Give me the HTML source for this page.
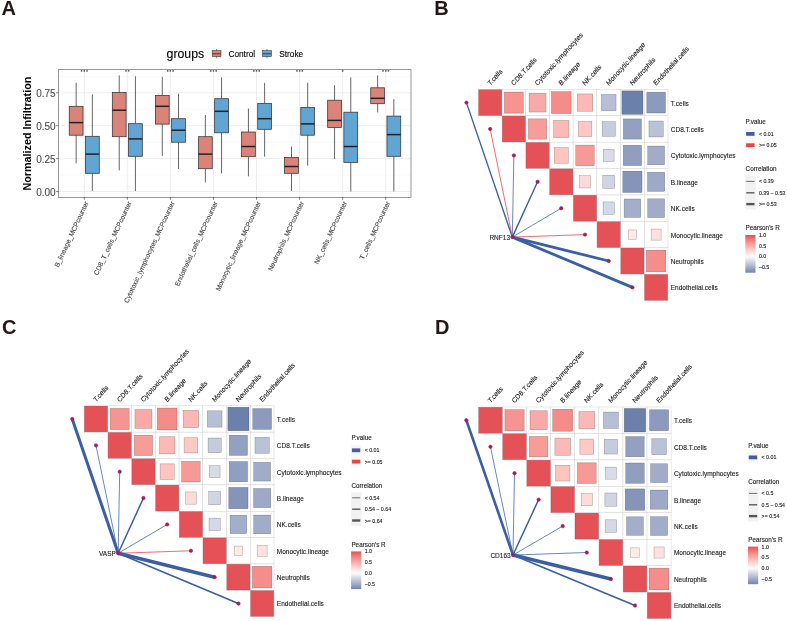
<!DOCTYPE html>
<html><head><meta charset="utf-8"><style>
html,body{margin:0;padding:0;background:#fff;overflow:hidden;width:787px;height:621px;}
svg{display:block;font-family:"Liberation Sans", sans-serif;will-change:transform;}
</style></head><body>
<svg width="787" height="621" viewBox="0 0 787 621">
<rect x="58.5" y="69.5" width="352.5" height="127.5" fill="#fff"/>
<line x1="58.5" x2="411.0" y1="175.05" y2="175.05" stroke="#F2F2F2" stroke-width="0.5"/>
<line x1="58.5" x2="411.0" y1="142.15" y2="142.15" stroke="#F2F2F2" stroke-width="0.5"/>
<line x1="58.5" x2="411.0" y1="109.25" y2="109.25" stroke="#F2F2F2" stroke-width="0.5"/>
<line x1="58.5" x2="411.0" y1="76.35" y2="76.35" stroke="#F2F2F2" stroke-width="0.5"/>
<line x1="58.5" x2="411.0" y1="191.50" y2="191.50" stroke="#E6E6E6" stroke-width="0.7"/>
<line x1="58.5" x2="411.0" y1="158.60" y2="158.60" stroke="#E6E6E6" stroke-width="0.7"/>
<line x1="58.5" x2="411.0" y1="125.70" y2="125.70" stroke="#E6E6E6" stroke-width="0.7"/>
<line x1="58.5" x2="411.0" y1="92.80" y2="92.80" stroke="#E6E6E6" stroke-width="0.7"/>
<line x1="84.25" x2="84.25" y1="69.5" y2="197.0" stroke="#E6E6E6" stroke-width="0.7"/>
<line x1="127.32" x2="127.32" y1="69.5" y2="197.0" stroke="#E6E6E6" stroke-width="0.7"/>
<line x1="170.39" x2="170.39" y1="69.5" y2="197.0" stroke="#E6E6E6" stroke-width="0.7"/>
<line x1="213.46" x2="213.46" y1="69.5" y2="197.0" stroke="#E6E6E6" stroke-width="0.7"/>
<line x1="256.53" x2="256.53" y1="69.5" y2="197.0" stroke="#E6E6E6" stroke-width="0.7"/>
<line x1="299.60" x2="299.60" y1="69.5" y2="197.0" stroke="#E6E6E6" stroke-width="0.7"/>
<line x1="342.67" x2="342.67" y1="69.5" y2="197.0" stroke="#E6E6E6" stroke-width="0.7"/>
<line x1="385.74" x2="385.74" y1="69.5" y2="197.0" stroke="#E6E6E6" stroke-width="0.7"/>
<line x1="76.15" x2="76.15" y1="82.8" y2="106.3" stroke="#333333" stroke-width="0.75"/>
<line x1="76.15" x2="76.15" y1="135.2" y2="163.3" stroke="#333333" stroke-width="0.75"/>
<rect x="69.25" y="106.3" width="13.8" height="28.90" fill="#DA8379" stroke="#333333" stroke-width="0.75"/>
<line x1="69.25" x2="83.05" y1="122.6" y2="122.6" stroke="#222" stroke-width="1.5"/>
<line x1="92.35" x2="92.35" y1="94.3" y2="136.3" stroke="#333333" stroke-width="0.75"/>
<line x1="92.35" x2="92.35" y1="173.3" y2="191.1" stroke="#333333" stroke-width="0.75"/>
<rect x="85.45" y="136.3" width="13.8" height="37.00" fill="#61A5D5" stroke="#333333" stroke-width="0.75"/>
<line x1="85.45" x2="99.25" y1="154.1" y2="154.1" stroke="#222" stroke-width="1.5"/>
<line x1="119.22" x2="119.22" y1="75.4" y2="92.6" stroke="#333333" stroke-width="0.75"/>
<line x1="119.22" x2="119.22" y1="136.7" y2="170.4" stroke="#333333" stroke-width="0.75"/>
<rect x="112.32" y="92.6" width="13.8" height="44.10" fill="#DA8379" stroke="#333333" stroke-width="0.75"/>
<line x1="112.32" x2="126.12" y1="110.2" y2="110.2" stroke="#222" stroke-width="1.5"/>
<line x1="135.42" x2="135.42" y1="76.3" y2="123.7" stroke="#333333" stroke-width="0.75"/>
<line x1="135.42" x2="135.42" y1="156.3" y2="191.1" stroke="#333333" stroke-width="0.75"/>
<rect x="128.52" y="123.7" width="13.8" height="32.60" fill="#61A5D5" stroke="#333333" stroke-width="0.75"/>
<line x1="128.52" x2="142.32" y1="138.9" y2="138.9" stroke="#222" stroke-width="1.5"/>
<line x1="162.29" x2="162.29" y1="77.0" y2="95.4" stroke="#333333" stroke-width="0.75"/>
<line x1="162.29" x2="162.29" y1="124.1" y2="155.9" stroke="#333333" stroke-width="0.75"/>
<rect x="155.39" y="95.4" width="13.8" height="28.70" fill="#DA8379" stroke="#333333" stroke-width="0.75"/>
<line x1="155.39" x2="169.19" y1="106.3" y2="106.3" stroke="#222" stroke-width="1.5"/>
<line x1="178.49" x2="178.49" y1="93.7" y2="118.7" stroke="#333333" stroke-width="0.75"/>
<line x1="178.49" x2="178.49" y1="142.2" y2="168.9" stroke="#333333" stroke-width="0.75"/>
<rect x="171.59" y="118.7" width="13.8" height="23.50" fill="#61A5D5" stroke="#333333" stroke-width="0.75"/>
<line x1="171.59" x2="185.39" y1="130.2" y2="130.2" stroke="#222" stroke-width="1.5"/>
<line x1="205.36" x2="205.36" y1="115.0" y2="136.7" stroke="#333333" stroke-width="0.75"/>
<line x1="205.36" x2="205.36" y1="168.7" y2="182.4" stroke="#333333" stroke-width="0.75"/>
<rect x="198.46" y="136.7" width="13.8" height="32.00" fill="#DA8379" stroke="#333333" stroke-width="0.75"/>
<line x1="198.46" x2="212.26" y1="154.1" y2="154.1" stroke="#222" stroke-width="1.5"/>
<line x1="221.56" x2="221.56" y1="77.4" y2="98.7" stroke="#333333" stroke-width="0.75"/>
<line x1="221.56" x2="221.56" y1="132.8" y2="173.3" stroke="#333333" stroke-width="0.75"/>
<rect x="214.66" y="98.7" width="13.8" height="34.10" fill="#61A5D5" stroke="#333333" stroke-width="0.75"/>
<line x1="214.66" x2="228.46" y1="111.3" y2="111.3" stroke="#222" stroke-width="1.5"/>
<line x1="248.43" x2="248.43" y1="108.5" y2="132.0" stroke="#333333" stroke-width="0.75"/>
<line x1="248.43" x2="248.43" y1="156.7" y2="176.3" stroke="#333333" stroke-width="0.75"/>
<rect x="241.53" y="132.0" width="13.8" height="24.70" fill="#DA8379" stroke="#333333" stroke-width="0.75"/>
<line x1="241.53" x2="255.33" y1="146.5" y2="146.5" stroke="#222" stroke-width="1.5"/>
<line x1="264.63" x2="264.63" y1="82.8" y2="103.5" stroke="#333333" stroke-width="0.75"/>
<line x1="264.63" x2="264.63" y1="129.3" y2="156.7" stroke="#333333" stroke-width="0.75"/>
<rect x="257.73" y="103.5" width="13.8" height="25.80" fill="#61A5D5" stroke="#333333" stroke-width="0.75"/>
<line x1="257.73" x2="271.53" y1="118.7" y2="118.7" stroke="#222" stroke-width="1.5"/>
<line x1="291.50" x2="291.50" y1="146.5" y2="157.4" stroke="#333333" stroke-width="0.75"/>
<line x1="291.50" x2="291.50" y1="173.3" y2="191.1" stroke="#333333" stroke-width="0.75"/>
<rect x="284.60" y="157.4" width="13.8" height="15.90" fill="#DA8379" stroke="#333333" stroke-width="0.75"/>
<line x1="284.60" x2="298.40" y1="166.5" y2="166.5" stroke="#222" stroke-width="1.5"/>
<line x1="307.70" x2="307.70" y1="82.8" y2="107.4" stroke="#333333" stroke-width="0.75"/>
<line x1="307.70" x2="307.70" y1="135.2" y2="165.7" stroke="#333333" stroke-width="0.75"/>
<rect x="300.80" y="107.4" width="13.8" height="27.80" fill="#61A5D5" stroke="#333333" stroke-width="0.75"/>
<line x1="300.80" x2="314.60" y1="123.9" y2="123.9" stroke="#222" stroke-width="1.5"/>
<line x1="334.57" x2="334.57" y1="85.2" y2="100.2" stroke="#333333" stroke-width="0.75"/>
<line x1="334.57" x2="334.57" y1="127.6" y2="158.9" stroke="#333333" stroke-width="0.75"/>
<rect x="327.67" y="100.2" width="13.8" height="27.40" fill="#DA8379" stroke="#333333" stroke-width="0.75"/>
<line x1="327.67" x2="341.47" y1="120.4" y2="120.4" stroke="#222" stroke-width="1.5"/>
<line x1="350.77" x2="350.77" y1="77.4" y2="112.2" stroke="#333333" stroke-width="0.75"/>
<line x1="350.77" x2="350.77" y1="162.4" y2="191.5" stroke="#333333" stroke-width="0.75"/>
<rect x="343.87" y="112.2" width="13.8" height="50.20" fill="#61A5D5" stroke="#333333" stroke-width="0.75"/>
<line x1="343.87" x2="357.67" y1="146.5" y2="146.5" stroke="#222" stroke-width="1.5"/>
<line x1="377.64" x2="377.64" y1="75.4" y2="87.8" stroke="#333333" stroke-width="0.75"/>
<line x1="377.64" x2="377.64" y1="103.7" y2="112.4" stroke="#333333" stroke-width="0.75"/>
<rect x="370.74" y="87.8" width="13.8" height="15.90" fill="#DA8379" stroke="#333333" stroke-width="0.75"/>
<line x1="370.74" x2="384.54" y1="98.3" y2="98.3" stroke="#222" stroke-width="1.5"/>
<line x1="393.84" x2="393.84" y1="99.1" y2="116.1" stroke="#333333" stroke-width="0.75"/>
<line x1="393.84" x2="393.84" y1="156.3" y2="191.5" stroke="#333333" stroke-width="0.75"/>
<rect x="386.94" y="116.1" width="13.8" height="40.20" fill="#61A5D5" stroke="#333333" stroke-width="0.75"/>
<line x1="386.94" x2="400.74" y1="134.6" y2="134.6" stroke="#222" stroke-width="1.5"/>
<rect x="80.80" y="70.2" width="1.5" height="1.4" fill="#444"/>
<rect x="83.50" y="70.2" width="1.5" height="1.4" fill="#444"/>
<rect x="86.20" y="70.2" width="1.5" height="1.4" fill="#444"/>
<rect x="125.22" y="70.2" width="1.5" height="1.4" fill="#444"/>
<rect x="127.92" y="70.2" width="1.5" height="1.4" fill="#444"/>
<rect x="166.94" y="70.2" width="1.5" height="1.4" fill="#444"/>
<rect x="169.64" y="70.2" width="1.5" height="1.4" fill="#444"/>
<rect x="172.34" y="70.2" width="1.5" height="1.4" fill="#444"/>
<rect x="210.01" y="70.2" width="1.5" height="1.4" fill="#444"/>
<rect x="212.71" y="70.2" width="1.5" height="1.4" fill="#444"/>
<rect x="215.41" y="70.2" width="1.5" height="1.4" fill="#444"/>
<rect x="253.08" y="70.2" width="1.5" height="1.4" fill="#444"/>
<rect x="255.78" y="70.2" width="1.5" height="1.4" fill="#444"/>
<rect x="258.48" y="70.2" width="1.5" height="1.4" fill="#444"/>
<rect x="296.15" y="70.2" width="1.5" height="1.4" fill="#444"/>
<rect x="298.85" y="70.2" width="1.5" height="1.4" fill="#444"/>
<rect x="301.55" y="70.2" width="1.5" height="1.4" fill="#444"/>
<rect x="341.92" y="70.2" width="1.5" height="1.4" fill="#444"/>
<rect x="382.29" y="70.2" width="1.5" height="1.4" fill="#444"/>
<rect x="384.99" y="70.2" width="1.5" height="1.4" fill="#444"/>
<rect x="387.69" y="70.2" width="1.5" height="1.4" fill="#444"/>
<rect x="58.5" y="69.5" width="352.5" height="128" fill="none" stroke="#8C8C8C" stroke-width="0.9"/>
<line x1="56.1" x2="58.5" y1="191.50" y2="191.50" stroke="#333" stroke-width="0.6"/>
<text transform="translate(55.60,196.00) scale(1,1)" font-size="10" fill="#4D4D4D" stroke="#4D4D4D" stroke-width="0.12" text-anchor="end">0.00</text>
<line x1="56.1" x2="58.5" y1="158.60" y2="158.60" stroke="#333" stroke-width="0.6"/>
<text transform="translate(55.60,163.10) scale(1,1)" font-size="10" fill="#4D4D4D" stroke="#4D4D4D" stroke-width="0.12" text-anchor="end">0.25</text>
<line x1="56.1" x2="58.5" y1="125.70" y2="125.70" stroke="#333" stroke-width="0.6"/>
<text transform="translate(55.60,130.20) scale(1,1)" font-size="10" fill="#4D4D4D" stroke="#4D4D4D" stroke-width="0.12" text-anchor="end">0.50</text>
<line x1="56.1" x2="58.5" y1="92.80" y2="92.80" stroke="#333" stroke-width="0.6"/>
<text transform="translate(55.60,97.30) scale(1,1)" font-size="10" fill="#4D4D4D" stroke="#4D4D4D" stroke-width="0.12" text-anchor="end">0.75</text>
<line x1="84.25" x2="84.25" y1="197.0" y2="199.8" stroke="#333" stroke-width="0.6"/>
<text transform="translate(88.75,202.80) scale(1,1) rotate(-65)" font-size="6.8" fill="#4D4D4D" stroke="#4D4D4D" stroke-width="0.12" text-anchor="end">B_lineage_MCPcounter</text>
<line x1="127.32" x2="127.32" y1="197.0" y2="199.8" stroke="#333" stroke-width="0.6"/>
<text transform="translate(131.82,202.80) scale(1,1) rotate(-65)" font-size="6.8" fill="#4D4D4D" stroke="#4D4D4D" stroke-width="0.12" text-anchor="end">CD8_T_cells_MCPcounter</text>
<line x1="170.39" x2="170.39" y1="197.0" y2="199.8" stroke="#333" stroke-width="0.6"/>
<text transform="translate(174.89,202.80) scale(1,1) rotate(-65)" font-size="6.8" fill="#4D4D4D" stroke="#4D4D4D" stroke-width="0.12" text-anchor="end">Cytotoxic_lymphocytes_MCPcounter</text>
<line x1="213.46" x2="213.46" y1="197.0" y2="199.8" stroke="#333" stroke-width="0.6"/>
<text transform="translate(217.96,202.80) scale(1,1) rotate(-65)" font-size="6.8" fill="#4D4D4D" stroke="#4D4D4D" stroke-width="0.12" text-anchor="end">Endothelial_cells_MCPcounter</text>
<line x1="256.53" x2="256.53" y1="197.0" y2="199.8" stroke="#333" stroke-width="0.6"/>
<text transform="translate(261.03,202.80) scale(1,1) rotate(-65)" font-size="6.8" fill="#4D4D4D" stroke="#4D4D4D" stroke-width="0.12" text-anchor="end">Monocytic_lineage_MCPcounter</text>
<line x1="299.60" x2="299.60" y1="197.0" y2="199.8" stroke="#333" stroke-width="0.6"/>
<text transform="translate(304.10,202.80) scale(1,1) rotate(-65)" font-size="6.8" fill="#4D4D4D" stroke="#4D4D4D" stroke-width="0.12" text-anchor="end">Neutrophils_MCPcounter</text>
<line x1="342.67" x2="342.67" y1="197.0" y2="199.8" stroke="#333" stroke-width="0.6"/>
<text transform="translate(347.17,202.80) scale(1,1) rotate(-65)" font-size="6.8" fill="#4D4D4D" stroke="#4D4D4D" stroke-width="0.12" text-anchor="end">NK_cells_MCPcounter</text>
<line x1="385.74" x2="385.74" y1="197.0" y2="199.8" stroke="#333" stroke-width="0.6"/>
<text transform="translate(390.24,202.80) scale(1,1) rotate(-65)" font-size="6.8" fill="#4D4D4D" stroke="#4D4D4D" stroke-width="0.12" text-anchor="end">T_cells_MCPcounter</text>
<text transform="translate(31.00,133.60) scale(1,1) rotate(-90)" font-size="10.8" fill="#000" text-anchor="middle" font-weight="bold">Normalized Infiltration</text>
<text transform="translate(166.60,57.80) scale(1,1)" font-size="12.3" fill="#000" stroke="#000" stroke-width="0.12">groups</text>
<line x1="216.6" x2="216.6" y1="48.9" y2="58.3" stroke="#333333" stroke-width="0.6"/>
<rect x="212.20000000000002" y="50.7" width="8.8" height="6.0" fill="#DA8379" stroke="#333333" stroke-width="0.55"/>
<line x1="212.20000000000002" x2="221.0" y1="53.75" y2="53.75" stroke="#333" stroke-width="0.9"/>
<line x1="267.0" x2="267.0" y1="48.9" y2="58.3" stroke="#333333" stroke-width="0.6"/>
<rect x="262.6" y="50.7" width="8.8" height="6.0" fill="#61A5D5" stroke="#333333" stroke-width="0.55"/>
<line x1="262.6" x2="271.40000000000003" y1="53.75" y2="53.75" stroke="#333" stroke-width="0.9"/>
<text transform="translate(228.40,56.90) scale(1,1)" font-size="8.3" fill="#000" stroke="#000" stroke-width="0.12">Control</text>
<text transform="translate(279.20,56.90) scale(1,1)" font-size="8.3" fill="#000" stroke="#000" stroke-width="0.12">Stroke</text>
<text x="1.6" y="15.1" font-size="20" font-weight="bold" fill="#231815">A</text>
<text x="434.2" y="15.1" font-size="20" font-weight="bold" fill="#231815">B</text>
<text x="2.0" y="334.3" font-size="20" font-weight="bold" fill="#231815">C</text>
<text x="435.1" y="334.0" font-size="20" font-weight="bold" fill="#231815">D</text>
<rect x="478.30" y="89.40" width="23.71" height="26.40" fill="#fff" stroke="#D4D4D4" stroke-width="0.5"/>
<rect x="502.01" y="89.40" width="23.71" height="26.40" fill="#fff" stroke="#D4D4D4" stroke-width="0.5"/>
<rect x="525.72" y="89.40" width="23.71" height="26.40" fill="#fff" stroke="#D4D4D4" stroke-width="0.5"/>
<rect x="549.43" y="89.40" width="23.71" height="26.40" fill="#fff" stroke="#D4D4D4" stroke-width="0.5"/>
<rect x="573.14" y="89.40" width="23.71" height="26.40" fill="#fff" stroke="#D4D4D4" stroke-width="0.5"/>
<rect x="596.85" y="89.40" width="23.71" height="26.40" fill="#fff" stroke="#D4D4D4" stroke-width="0.5"/>
<rect x="620.56" y="89.40" width="23.71" height="26.40" fill="#fff" stroke="#D4D4D4" stroke-width="0.5"/>
<rect x="644.27" y="89.40" width="23.71" height="26.40" fill="#fff" stroke="#D4D4D4" stroke-width="0.5"/>
<rect x="502.01" y="115.80" width="23.71" height="26.40" fill="#fff" stroke="#D4D4D4" stroke-width="0.5"/>
<rect x="525.72" y="115.80" width="23.71" height="26.40" fill="#fff" stroke="#D4D4D4" stroke-width="0.5"/>
<rect x="549.43" y="115.80" width="23.71" height="26.40" fill="#fff" stroke="#D4D4D4" stroke-width="0.5"/>
<rect x="573.14" y="115.80" width="23.71" height="26.40" fill="#fff" stroke="#D4D4D4" stroke-width="0.5"/>
<rect x="596.85" y="115.80" width="23.71" height="26.40" fill="#fff" stroke="#D4D4D4" stroke-width="0.5"/>
<rect x="620.56" y="115.80" width="23.71" height="26.40" fill="#fff" stroke="#D4D4D4" stroke-width="0.5"/>
<rect x="644.27" y="115.80" width="23.71" height="26.40" fill="#fff" stroke="#D4D4D4" stroke-width="0.5"/>
<rect x="525.72" y="142.20" width="23.71" height="26.40" fill="#fff" stroke="#D4D4D4" stroke-width="0.5"/>
<rect x="549.43" y="142.20" width="23.71" height="26.40" fill="#fff" stroke="#D4D4D4" stroke-width="0.5"/>
<rect x="573.14" y="142.20" width="23.71" height="26.40" fill="#fff" stroke="#D4D4D4" stroke-width="0.5"/>
<rect x="596.85" y="142.20" width="23.71" height="26.40" fill="#fff" stroke="#D4D4D4" stroke-width="0.5"/>
<rect x="620.56" y="142.20" width="23.71" height="26.40" fill="#fff" stroke="#D4D4D4" stroke-width="0.5"/>
<rect x="644.27" y="142.20" width="23.71" height="26.40" fill="#fff" stroke="#D4D4D4" stroke-width="0.5"/>
<rect x="549.43" y="168.60" width="23.71" height="26.40" fill="#fff" stroke="#D4D4D4" stroke-width="0.5"/>
<rect x="573.14" y="168.60" width="23.71" height="26.40" fill="#fff" stroke="#D4D4D4" stroke-width="0.5"/>
<rect x="596.85" y="168.60" width="23.71" height="26.40" fill="#fff" stroke="#D4D4D4" stroke-width="0.5"/>
<rect x="620.56" y="168.60" width="23.71" height="26.40" fill="#fff" stroke="#D4D4D4" stroke-width="0.5"/>
<rect x="644.27" y="168.60" width="23.71" height="26.40" fill="#fff" stroke="#D4D4D4" stroke-width="0.5"/>
<rect x="573.14" y="195.00" width="23.71" height="26.40" fill="#fff" stroke="#D4D4D4" stroke-width="0.5"/>
<rect x="596.85" y="195.00" width="23.71" height="26.40" fill="#fff" stroke="#D4D4D4" stroke-width="0.5"/>
<rect x="620.56" y="195.00" width="23.71" height="26.40" fill="#fff" stroke="#D4D4D4" stroke-width="0.5"/>
<rect x="644.27" y="195.00" width="23.71" height="26.40" fill="#fff" stroke="#D4D4D4" stroke-width="0.5"/>
<rect x="596.85" y="221.40" width="23.71" height="26.40" fill="#fff" stroke="#D4D4D4" stroke-width="0.5"/>
<rect x="620.56" y="221.40" width="23.71" height="26.40" fill="#fff" stroke="#D4D4D4" stroke-width="0.5"/>
<rect x="644.27" y="221.40" width="23.71" height="26.40" fill="#fff" stroke="#D4D4D4" stroke-width="0.5"/>
<rect x="620.56" y="247.80" width="23.71" height="26.40" fill="#fff" stroke="#D4D4D4" stroke-width="0.5"/>
<rect x="644.27" y="247.80" width="23.71" height="26.40" fill="#fff" stroke="#D4D4D4" stroke-width="0.5"/>
<rect x="644.27" y="274.20" width="23.71" height="26.40" fill="#fff" stroke="#D4D4D4" stroke-width="0.5"/>
<rect x="478.55" y="89.65" width="23.21" height="25.90" fill="#E45258" stroke="#000" stroke-opacity="0.2" stroke-width="0.5"/>
<rect x="504.38" y="92.04" width="18.97" height="21.12" fill="#F69491" stroke="#000" stroke-opacity="0.35" stroke-width="0.5"/>
<rect x="529.10" y="93.16" width="16.95" height="18.88" fill="#FAAAA6" stroke="#000" stroke-opacity="0.35" stroke-width="0.5"/>
<rect x="551.45" y="91.64" width="19.68" height="21.91" fill="#F48C89" stroke="#000" stroke-opacity="0.35" stroke-width="0.5"/>
<rect x="577.23" y="93.95" width="15.53" height="17.29" fill="#FCB8B4" stroke="#000" stroke-opacity="0.35" stroke-width="0.5"/>
<rect x="601.35" y="94.42" width="14.70" height="16.37" fill="#B7BFD6" stroke="#000" stroke-opacity="0.35" stroke-width="0.5"/>
<rect x="621.86" y="90.85" width="21.10" height="23.50" fill="#6B80AB" stroke="#000" stroke-opacity="0.35" stroke-width="0.5"/>
<rect x="646.76" y="92.17" width="18.73" height="20.86" fill="#8B9ABD" stroke="#000" stroke-opacity="0.35" stroke-width="0.5"/>
<rect x="502.26" y="116.05" width="23.21" height="25.90" fill="#E45258" stroke="#000" stroke-opacity="0.2" stroke-width="0.5"/>
<rect x="528.45" y="118.84" width="18.26" height="20.33" fill="#F89C98" stroke="#000" stroke-opacity="0.35" stroke-width="0.5"/>
<rect x="553.58" y="120.42" width="15.41" height="17.16" fill="#FDB9B5" stroke="#000" stroke-opacity="0.35" stroke-width="0.5"/>
<rect x="578.18" y="121.41" width="13.63" height="15.18" fill="#FEC8C5" stroke="#000" stroke-opacity="0.35" stroke-width="0.5"/>
<rect x="602.13" y="121.67" width="13.16" height="14.65" fill="#C5CCDE" stroke="#000" stroke-opacity="0.35" stroke-width="0.5"/>
<rect x="623.35" y="118.90" width="18.14" height="20.20" fill="#92A0C1" stroke="#000" stroke-opacity="0.35" stroke-width="0.5"/>
<rect x="648.95" y="121.01" width="14.34" height="15.97" fill="#BAC2D8" stroke="#000" stroke-opacity="0.35" stroke-width="0.5"/>
<rect x="525.97" y="142.45" width="23.21" height="25.90" fill="#E45258" stroke="#000" stroke-opacity="0.2" stroke-width="0.5"/>
<rect x="554.23" y="147.55" width="14.11" height="15.71" fill="#FEC4C0" stroke="#000" stroke-opacity="0.35" stroke-width="0.5"/>
<rect x="575.75" y="145.10" width="18.49" height="20.59" fill="#F79996" stroke="#000" stroke-opacity="0.35" stroke-width="0.5"/>
<rect x="603.31" y="149.39" width="10.79" height="12.01" fill="#D8DCE9" stroke="#000" stroke-opacity="0.35" stroke-width="0.5"/>
<rect x="623.29" y="145.24" width="18.26" height="20.33" fill="#909EC0" stroke="#000" stroke-opacity="0.35" stroke-width="0.5"/>
<rect x="647.71" y="146.03" width="16.83" height="18.74" fill="#A1ACC9" stroke="#000" stroke-opacity="0.35" stroke-width="0.5"/>
<rect x="549.68" y="168.85" width="23.21" height="25.90" fill="#E45258" stroke="#000" stroke-opacity="0.2" stroke-width="0.5"/>
<rect x="579.48" y="175.66" width="11.03" height="12.28" fill="#FFDBD8" stroke="#000" stroke-opacity="0.35" stroke-width="0.5"/>
<rect x="602.78" y="175.20" width="11.86" height="13.20" fill="#D0D5E4" stroke="#000" stroke-opacity="0.35" stroke-width="0.5"/>
<rect x="622.81" y="171.11" width="19.21" height="21.38" fill="#8595B9" stroke="#000" stroke-opacity="0.35" stroke-width="0.5"/>
<rect x="647.53" y="172.23" width="17.19" height="19.14" fill="#9DA9C7" stroke="#000" stroke-opacity="0.35" stroke-width="0.5"/>
<rect x="573.39" y="195.25" width="23.21" height="25.90" fill="#E45258" stroke="#000" stroke-opacity="0.2" stroke-width="0.5"/>
<rect x="603.07" y="201.93" width="11.26" height="12.54" fill="#D4D9E7" stroke="#000" stroke-opacity="0.35" stroke-width="0.5"/>
<rect x="624.12" y="198.96" width="16.60" height="18.48" fill="#A3AECB" stroke="#000" stroke-opacity="0.35" stroke-width="0.5"/>
<rect x="647.71" y="198.83" width="16.83" height="18.74" fill="#A1ACC9" stroke="#000" stroke-opacity="0.35" stroke-width="0.5"/>
<rect x="597.10" y="221.65" width="23.21" height="25.90" fill="#E45258" stroke="#000" stroke-opacity="0.2" stroke-width="0.5"/>
<rect x="628.21" y="229.91" width="8.42" height="9.37" fill="#FFEAE8" stroke="#000" stroke-opacity="0.35" stroke-width="0.5"/>
<rect x="651.15" y="229.06" width="9.96" height="11.09" fill="#FFE2DF" stroke="#000" stroke-opacity="0.35" stroke-width="0.5"/>
<rect x="620.81" y="248.05" width="23.21" height="25.90" fill="#E45258" stroke="#000" stroke-opacity="0.2" stroke-width="0.5"/>
<rect x="646.40" y="250.18" width="19.44" height="21.65" fill="#F58E8B" stroke="#000" stroke-opacity="0.35" stroke-width="0.5"/>
<rect x="644.52" y="274.45" width="23.21" height="25.90" fill="#E45258" stroke="#000" stroke-opacity="0.2" stroke-width="0.5"/>
<text transform="translate(670.78,105.50) scale(0.905,1)" font-size="7.2" fill="#1A1A1A" stroke="#1A1A1A" stroke-width="0.12">T.cells</text>
<text transform="translate(670.78,131.90) scale(0.905,1)" font-size="7.2" fill="#1A1A1A" stroke="#1A1A1A" stroke-width="0.12">CD8.T.cells</text>
<text transform="translate(670.78,158.30) scale(0.905,1)" font-size="7.2" fill="#1A1A1A" stroke="#1A1A1A" stroke-width="0.12">Cytotoxic.lymphocytes</text>
<text transform="translate(670.78,184.70) scale(0.905,1)" font-size="7.2" fill="#1A1A1A" stroke="#1A1A1A" stroke-width="0.12">B.lineage</text>
<text transform="translate(670.78,211.10) scale(0.905,1)" font-size="7.2" fill="#1A1A1A" stroke="#1A1A1A" stroke-width="0.12">NK.cells</text>
<text transform="translate(670.78,237.50) scale(0.905,1)" font-size="7.2" fill="#1A1A1A" stroke="#1A1A1A" stroke-width="0.12">Monocytic.lineage</text>
<text transform="translate(670.78,263.90) scale(0.905,1)" font-size="7.2" fill="#1A1A1A" stroke="#1A1A1A" stroke-width="0.12">Neutrophils</text>
<text transform="translate(670.78,290.30) scale(0.905,1)" font-size="7.2" fill="#1A1A1A" stroke="#1A1A1A" stroke-width="0.12">Endothelial.cells</text>
<text transform="translate(490.16,86.00) scale(0.905,1) rotate(-45)" font-size="7.2" fill="#1A1A1A" stroke="#1A1A1A" stroke-width="0.12">T.cells</text>
<text transform="translate(513.87,86.00) scale(0.905,1) rotate(-45)" font-size="7.2" fill="#1A1A1A" stroke="#1A1A1A" stroke-width="0.12">CD8.T.cells</text>
<text transform="translate(537.58,86.00) scale(0.905,1) rotate(-45)" font-size="7.2" fill="#1A1A1A" stroke="#1A1A1A" stroke-width="0.12">Cytotoxic.lymphocytes</text>
<text transform="translate(561.28,86.00) scale(0.905,1) rotate(-45)" font-size="7.2" fill="#1A1A1A" stroke="#1A1A1A" stroke-width="0.12">B.lineage</text>
<text transform="translate(585.00,86.00) scale(0.905,1) rotate(-45)" font-size="7.2" fill="#1A1A1A" stroke="#1A1A1A" stroke-width="0.12">NK.cells</text>
<text transform="translate(608.71,86.00) scale(0.905,1) rotate(-45)" font-size="7.2" fill="#1A1A1A" stroke="#1A1A1A" stroke-width="0.12">Monocytic.lineage</text>
<text transform="translate(632.41,86.00) scale(0.905,1) rotate(-45)" font-size="7.2" fill="#1A1A1A" stroke="#1A1A1A" stroke-width="0.12">Neutrophils</text>
<text transform="translate(656.12,86.00) scale(0.905,1) rotate(-45)" font-size="7.2" fill="#1A1A1A" stroke="#1A1A1A" stroke-width="0.12">Endothelial.cells</text>
<line x1="512.32" y1="237.11" x2="466.44" y2="102.60" stroke="#3A5FA3" stroke-width="1.35"/>
<line x1="512.32" y1="237.11" x2="490.16" y2="129.00" stroke="#E8474F" stroke-width="0.8"/>
<line x1="512.32" y1="237.11" x2="513.87" y2="155.40" stroke="#3A5FA3" stroke-width="0.75"/>
<line x1="512.32" y1="237.11" x2="537.58" y2="181.80" stroke="#3A5FA3" stroke-width="1.4"/>
<line x1="512.32" y1="237.11" x2="561.28" y2="208.20" stroke="#3A5FA3" stroke-width="0.75"/>
<line x1="512.32" y1="237.11" x2="585.00" y2="234.60" stroke="#E8474F" stroke-width="0.8"/>
<line x1="512.32" y1="237.11" x2="608.71" y2="261.00" stroke="#3A5FA3" stroke-width="2.8"/>
<line x1="512.32" y1="237.11" x2="632.41" y2="287.40" stroke="#3A5FA3" stroke-width="2.8"/>
<circle cx="466.44" cy="102.60" r="1.7" fill="#FF0000" stroke="#3A2FD8" stroke-width="0.55"/>
<circle cx="490.16" cy="129.00" r="1.7" fill="#FF0000" stroke="#3A2FD8" stroke-width="0.55"/>
<circle cx="513.87" cy="155.40" r="1.7" fill="#FF0000" stroke="#3A2FD8" stroke-width="0.55"/>
<circle cx="537.58" cy="181.80" r="1.7" fill="#FF0000" stroke="#3A2FD8" stroke-width="0.55"/>
<circle cx="561.28" cy="208.20" r="1.7" fill="#FF0000" stroke="#3A2FD8" stroke-width="0.55"/>
<circle cx="585.00" cy="234.60" r="1.7" fill="#FF0000" stroke="#3A2FD8" stroke-width="0.55"/>
<circle cx="608.71" cy="261.00" r="1.7" fill="#FF0000" stroke="#3A2FD8" stroke-width="0.55"/>
<circle cx="632.41" cy="287.40" r="1.7" fill="#FF0000" stroke="#3A2FD8" stroke-width="0.55"/>
<circle cx="512.32" cy="237.11" r="1.7" fill="#FF0000" stroke="#3A2FD8" stroke-width="0.55"/>
<text transform="translate(510.02,239.61) scale(0.905,1)" font-size="7.2" fill="#1A1A1A" stroke="#1A1A1A" stroke-width="0.12" text-anchor="end">RNF13</text>
<text transform="translate(745.60,123.80) scale(0.905,1)" font-size="7.0" fill="#1A1A1A" stroke="#1A1A1A" stroke-width="0.12">P.value</text>
<rect x="745.30" y="128.60" width="10.6" height="10.6" fill="#F7F7F7"/>
<rect x="745.30" y="139.90" width="10.6" height="10.6" fill="#F7F7F7"/>
<rect x="746.10" y="132.00" width="8.4" height="3.8" fill="#3F5E9F"/>
<text transform="translate(758.90,135.90) scale(0.905,1)" font-size="5.8" fill="#1A1A1A" stroke="#1A1A1A" stroke-width="0.12">< 0.01</text>
<rect x="746.10" y="143.30" width="8.4" height="3.8" fill="#E8434A"/>
<text transform="translate(758.90,147.20) scale(0.905,1)" font-size="5.8" fill="#1A1A1A" stroke="#1A1A1A" stroke-width="0.12">>= 0.05</text>
<text transform="translate(745.60,171.10) scale(0.905,1)" font-size="7.0" fill="#1A1A1A" stroke="#1A1A1A" stroke-width="0.12">Correlation</text>
<rect x="745.20" y="176.00" width="10.6" height="33.50" fill="#F2F2F2"/>
<line x1="746.30" x2="754.50" y1="181.40" y2="181.40" stroke="#555" stroke-width="0.85"/>
<text transform="translate(758.90,183.40) scale(0.905,1)" font-size="5.8" fill="#1A1A1A" stroke="#1A1A1A" stroke-width="0.12">< 0.39</text>
<line x1="746.30" x2="754.50" y1="192.80" y2="192.80" stroke="#555" stroke-width="1.35"/>
<text transform="translate(758.90,194.80) scale(0.905,1)" font-size="5.8" fill="#1A1A1A" stroke="#1A1A1A" stroke-width="0.12">0.39 ~ 0.53</text>
<line x1="746.30" x2="754.50" y1="204.10" y2="204.10" stroke="#555" stroke-width="2.4"/>
<text transform="translate(758.90,206.10) scale(0.905,1)" font-size="5.8" fill="#1A1A1A" stroke="#1A1A1A" stroke-width="0.12">>= 0.53</text>
<text transform="translate(745.60,230.20) scale(0.905,1)" font-size="7.0" fill="#1A1A1A" stroke="#1A1A1A" stroke-width="0.12">Pearson's R</text>
<defs><linearGradient id="gB" x1="0" y1="0" x2="0" y2="1"><stop offset="0.000" stop-color="#E45258"/><stop offset="0.050" stop-color="#E96365"/><stop offset="0.100" stop-color="#EE7473"/><stop offset="0.150" stop-color="#F28381"/><stop offset="0.200" stop-color="#F6938F"/><stop offset="0.250" stop-color="#F9A29E"/><stop offset="0.300" stop-color="#FBB0AC"/><stop offset="0.350" stop-color="#FDBFBB"/><stop offset="0.400" stop-color="#FFCECA"/><stop offset="0.450" stop-color="#FFDCDA"/><stop offset="0.500" stop-color="#FFEBE9"/><stop offset="0.550" stop-color="#FFFAF9"/><stop offset="0.600" stop-color="#F4F6F9"/><stop offset="0.650" stop-color="#E4E7F0"/><stop offset="0.700" stop-color="#D3D8E6"/><stop offset="0.750" stop-color="#C3CADD"/><stop offset="0.800" stop-color="#B3BCD3"/><stop offset="0.850" stop-color="#A2AECA"/><stop offset="0.900" stop-color="#92A0C1"/><stop offset="0.950" stop-color="#8292B8"/><stop offset="1.000" stop-color="#7185AF"/></linearGradient></defs>
<rect x="745.30" y="235.00" width="10.2" height="37.70" fill="url(#gB)"/>
<text transform="translate(758.90,237.00) scale(0.905,1)" font-size="5.8" fill="#1A1A1A" stroke="#1A1A1A" stroke-width="0.12">1.0</text>
<text transform="translate(758.90,247.71) scale(0.905,1)" font-size="5.8" fill="#1A1A1A" stroke="#1A1A1A" stroke-width="0.12">0.5</text>
<text transform="translate(758.90,258.42) scale(0.905,1)" font-size="5.8" fill="#1A1A1A" stroke="#1A1A1A" stroke-width="0.12">0.0</text>
<text transform="translate(758.90,269.13) scale(0.905,1)" font-size="5.8" fill="#1A1A1A" stroke="#1A1A1A" stroke-width="0.12">−0.5</text>
<rect x="84.10" y="405.80" width="23.74" height="26.36" fill="#fff" stroke="#D4D4D4" stroke-width="0.5"/>
<rect x="107.84" y="405.80" width="23.74" height="26.36" fill="#fff" stroke="#D4D4D4" stroke-width="0.5"/>
<rect x="131.58" y="405.80" width="23.74" height="26.36" fill="#fff" stroke="#D4D4D4" stroke-width="0.5"/>
<rect x="155.32" y="405.80" width="23.74" height="26.36" fill="#fff" stroke="#D4D4D4" stroke-width="0.5"/>
<rect x="179.06" y="405.80" width="23.74" height="26.36" fill="#fff" stroke="#D4D4D4" stroke-width="0.5"/>
<rect x="202.80" y="405.80" width="23.74" height="26.36" fill="#fff" stroke="#D4D4D4" stroke-width="0.5"/>
<rect x="226.54" y="405.80" width="23.74" height="26.36" fill="#fff" stroke="#D4D4D4" stroke-width="0.5"/>
<rect x="250.28" y="405.80" width="23.74" height="26.36" fill="#fff" stroke="#D4D4D4" stroke-width="0.5"/>
<rect x="107.84" y="432.16" width="23.74" height="26.36" fill="#fff" stroke="#D4D4D4" stroke-width="0.5"/>
<rect x="131.58" y="432.16" width="23.74" height="26.36" fill="#fff" stroke="#D4D4D4" stroke-width="0.5"/>
<rect x="155.32" y="432.16" width="23.74" height="26.36" fill="#fff" stroke="#D4D4D4" stroke-width="0.5"/>
<rect x="179.06" y="432.16" width="23.74" height="26.36" fill="#fff" stroke="#D4D4D4" stroke-width="0.5"/>
<rect x="202.80" y="432.16" width="23.74" height="26.36" fill="#fff" stroke="#D4D4D4" stroke-width="0.5"/>
<rect x="226.54" y="432.16" width="23.74" height="26.36" fill="#fff" stroke="#D4D4D4" stroke-width="0.5"/>
<rect x="250.28" y="432.16" width="23.74" height="26.36" fill="#fff" stroke="#D4D4D4" stroke-width="0.5"/>
<rect x="131.58" y="458.52" width="23.74" height="26.36" fill="#fff" stroke="#D4D4D4" stroke-width="0.5"/>
<rect x="155.32" y="458.52" width="23.74" height="26.36" fill="#fff" stroke="#D4D4D4" stroke-width="0.5"/>
<rect x="179.06" y="458.52" width="23.74" height="26.36" fill="#fff" stroke="#D4D4D4" stroke-width="0.5"/>
<rect x="202.80" y="458.52" width="23.74" height="26.36" fill="#fff" stroke="#D4D4D4" stroke-width="0.5"/>
<rect x="226.54" y="458.52" width="23.74" height="26.36" fill="#fff" stroke="#D4D4D4" stroke-width="0.5"/>
<rect x="250.28" y="458.52" width="23.74" height="26.36" fill="#fff" stroke="#D4D4D4" stroke-width="0.5"/>
<rect x="155.32" y="484.88" width="23.74" height="26.36" fill="#fff" stroke="#D4D4D4" stroke-width="0.5"/>
<rect x="179.06" y="484.88" width="23.74" height="26.36" fill="#fff" stroke="#D4D4D4" stroke-width="0.5"/>
<rect x="202.80" y="484.88" width="23.74" height="26.36" fill="#fff" stroke="#D4D4D4" stroke-width="0.5"/>
<rect x="226.54" y="484.88" width="23.74" height="26.36" fill="#fff" stroke="#D4D4D4" stroke-width="0.5"/>
<rect x="250.28" y="484.88" width="23.74" height="26.36" fill="#fff" stroke="#D4D4D4" stroke-width="0.5"/>
<rect x="179.06" y="511.24" width="23.74" height="26.36" fill="#fff" stroke="#D4D4D4" stroke-width="0.5"/>
<rect x="202.80" y="511.24" width="23.74" height="26.36" fill="#fff" stroke="#D4D4D4" stroke-width="0.5"/>
<rect x="226.54" y="511.24" width="23.74" height="26.36" fill="#fff" stroke="#D4D4D4" stroke-width="0.5"/>
<rect x="250.28" y="511.24" width="23.74" height="26.36" fill="#fff" stroke="#D4D4D4" stroke-width="0.5"/>
<rect x="202.80" y="537.60" width="23.74" height="26.36" fill="#fff" stroke="#D4D4D4" stroke-width="0.5"/>
<rect x="226.54" y="537.60" width="23.74" height="26.36" fill="#fff" stroke="#D4D4D4" stroke-width="0.5"/>
<rect x="250.28" y="537.60" width="23.74" height="26.36" fill="#fff" stroke="#D4D4D4" stroke-width="0.5"/>
<rect x="226.54" y="563.96" width="23.74" height="26.36" fill="#fff" stroke="#D4D4D4" stroke-width="0.5"/>
<rect x="250.28" y="563.96" width="23.74" height="26.36" fill="#fff" stroke="#D4D4D4" stroke-width="0.5"/>
<rect x="250.28" y="590.32" width="23.74" height="26.36" fill="#fff" stroke="#D4D4D4" stroke-width="0.5"/>
<rect x="84.35" y="406.05" width="23.24" height="25.86" fill="#E45258" stroke="#000" stroke-opacity="0.2" stroke-width="0.5"/>
<rect x="110.21" y="408.44" width="18.99" height="21.09" fill="#F69491" stroke="#000" stroke-opacity="0.35" stroke-width="0.5"/>
<rect x="134.96" y="409.56" width="16.97" height="18.85" fill="#FAAAA6" stroke="#000" stroke-opacity="0.35" stroke-width="0.5"/>
<rect x="157.34" y="408.04" width="19.70" height="21.88" fill="#F48C89" stroke="#000" stroke-opacity="0.35" stroke-width="0.5"/>
<rect x="183.16" y="410.35" width="15.55" height="17.27" fill="#FCB8B4" stroke="#000" stroke-opacity="0.35" stroke-width="0.5"/>
<rect x="207.31" y="410.81" width="14.72" height="16.34" fill="#B7BFD6" stroke="#000" stroke-opacity="0.35" stroke-width="0.5"/>
<rect x="227.85" y="407.25" width="21.13" height="23.46" fill="#6B80AB" stroke="#000" stroke-opacity="0.35" stroke-width="0.5"/>
<rect x="252.77" y="408.57" width="18.75" height="20.82" fill="#8B9ABD" stroke="#000" stroke-opacity="0.35" stroke-width="0.5"/>
<rect x="108.09" y="432.41" width="23.24" height="25.86" fill="#E45258" stroke="#000" stroke-opacity="0.2" stroke-width="0.5"/>
<rect x="134.31" y="435.19" width="18.28" height="20.30" fill="#F89C98" stroke="#000" stroke-opacity="0.35" stroke-width="0.5"/>
<rect x="159.47" y="436.77" width="15.43" height="17.13" fill="#FDB9B5" stroke="#000" stroke-opacity="0.35" stroke-width="0.5"/>
<rect x="184.10" y="437.76" width="13.65" height="15.16" fill="#FEC8C5" stroke="#000" stroke-opacity="0.35" stroke-width="0.5"/>
<rect x="208.08" y="438.03" width="13.18" height="14.63" fill="#C5CCDE" stroke="#000" stroke-opacity="0.35" stroke-width="0.5"/>
<rect x="229.33" y="435.26" width="18.16" height="20.17" fill="#92A0C1" stroke="#000" stroke-opacity="0.35" stroke-width="0.5"/>
<rect x="254.97" y="437.37" width="14.36" height="15.95" fill="#BAC2D8" stroke="#000" stroke-opacity="0.35" stroke-width="0.5"/>
<rect x="131.83" y="458.77" width="23.24" height="25.86" fill="#E45258" stroke="#000" stroke-opacity="0.2" stroke-width="0.5"/>
<rect x="160.13" y="463.86" width="14.13" height="15.68" fill="#FEC4C0" stroke="#000" stroke-opacity="0.35" stroke-width="0.5"/>
<rect x="181.67" y="461.42" width="18.52" height="20.56" fill="#F79996" stroke="#000" stroke-opacity="0.35" stroke-width="0.5"/>
<rect x="209.27" y="465.70" width="10.80" height="11.99" fill="#D8DCE9" stroke="#000" stroke-opacity="0.35" stroke-width="0.5"/>
<rect x="229.27" y="461.55" width="18.28" height="20.30" fill="#909EC0" stroke="#000" stroke-opacity="0.35" stroke-width="0.5"/>
<rect x="253.72" y="462.34" width="16.86" height="18.72" fill="#A1ACC9" stroke="#000" stroke-opacity="0.35" stroke-width="0.5"/>
<rect x="155.57" y="485.13" width="23.24" height="25.86" fill="#E45258" stroke="#000" stroke-opacity="0.2" stroke-width="0.5"/>
<rect x="185.41" y="491.93" width="11.04" height="12.26" fill="#FFDBD8" stroke="#000" stroke-opacity="0.35" stroke-width="0.5"/>
<rect x="208.73" y="491.47" width="11.87" height="13.18" fill="#D0D5E4" stroke="#000" stroke-opacity="0.35" stroke-width="0.5"/>
<rect x="228.80" y="487.38" width="19.23" height="21.35" fill="#8595B9" stroke="#000" stroke-opacity="0.35" stroke-width="0.5"/>
<rect x="253.54" y="488.50" width="17.21" height="19.11" fill="#9DA9C7" stroke="#000" stroke-opacity="0.35" stroke-width="0.5"/>
<rect x="179.31" y="511.49" width="23.24" height="25.86" fill="#E45258" stroke="#000" stroke-opacity="0.2" stroke-width="0.5"/>
<rect x="209.03" y="518.16" width="11.28" height="12.52" fill="#D4D9E7" stroke="#000" stroke-opacity="0.35" stroke-width="0.5"/>
<rect x="230.10" y="515.19" width="16.62" height="18.45" fill="#A3AECB" stroke="#000" stroke-opacity="0.35" stroke-width="0.5"/>
<rect x="253.72" y="515.06" width="16.86" height="18.72" fill="#A1ACC9" stroke="#000" stroke-opacity="0.35" stroke-width="0.5"/>
<rect x="203.05" y="537.85" width="23.24" height="25.86" fill="#E45258" stroke="#000" stroke-opacity="0.2" stroke-width="0.5"/>
<rect x="234.20" y="546.10" width="8.43" height="9.36" fill="#FFEAE8" stroke="#000" stroke-opacity="0.35" stroke-width="0.5"/>
<rect x="257.16" y="545.24" width="9.97" height="11.07" fill="#FFE2DF" stroke="#000" stroke-opacity="0.35" stroke-width="0.5"/>
<rect x="226.79" y="564.21" width="23.24" height="25.86" fill="#E45258" stroke="#000" stroke-opacity="0.2" stroke-width="0.5"/>
<rect x="252.42" y="566.33" width="19.47" height="21.62" fill="#F58E8B" stroke="#000" stroke-opacity="0.35" stroke-width="0.5"/>
<rect x="250.53" y="590.57" width="23.24" height="25.86" fill="#E45258" stroke="#000" stroke-opacity="0.2" stroke-width="0.5"/>
<text transform="translate(276.82,421.88) scale(0.905,1)" font-size="7.2" fill="#1A1A1A" stroke="#1A1A1A" stroke-width="0.12">T.cells</text>
<text transform="translate(276.82,448.24) scale(0.905,1)" font-size="7.2" fill="#1A1A1A" stroke="#1A1A1A" stroke-width="0.12">CD8.T.cells</text>
<text transform="translate(276.82,474.60) scale(0.905,1)" font-size="7.2" fill="#1A1A1A" stroke="#1A1A1A" stroke-width="0.12">Cytotoxic.lymphocytes</text>
<text transform="translate(276.82,500.96) scale(0.905,1)" font-size="7.2" fill="#1A1A1A" stroke="#1A1A1A" stroke-width="0.12">B.lineage</text>
<text transform="translate(276.82,527.32) scale(0.905,1)" font-size="7.2" fill="#1A1A1A" stroke="#1A1A1A" stroke-width="0.12">NK.cells</text>
<text transform="translate(276.82,553.68) scale(0.905,1)" font-size="7.2" fill="#1A1A1A" stroke="#1A1A1A" stroke-width="0.12">Monocytic.lineage</text>
<text transform="translate(276.82,580.04) scale(0.905,1)" font-size="7.2" fill="#1A1A1A" stroke="#1A1A1A" stroke-width="0.12">Neutrophils</text>
<text transform="translate(276.82,606.40) scale(0.905,1)" font-size="7.2" fill="#1A1A1A" stroke="#1A1A1A" stroke-width="0.12">Endothelial.cells</text>
<text transform="translate(95.97,402.40) scale(0.905,1) rotate(-45)" font-size="7.2" fill="#1A1A1A" stroke="#1A1A1A" stroke-width="0.12">T.cells</text>
<text transform="translate(119.71,402.40) scale(0.905,1) rotate(-45)" font-size="7.2" fill="#1A1A1A" stroke="#1A1A1A" stroke-width="0.12">CD8.T.cells</text>
<text transform="translate(143.45,402.40) scale(0.905,1) rotate(-45)" font-size="7.2" fill="#1A1A1A" stroke="#1A1A1A" stroke-width="0.12">Cytotoxic.lymphocytes</text>
<text transform="translate(167.19,402.40) scale(0.905,1) rotate(-45)" font-size="7.2" fill="#1A1A1A" stroke="#1A1A1A" stroke-width="0.12">B.lineage</text>
<text transform="translate(190.93,402.40) scale(0.905,1) rotate(-45)" font-size="7.2" fill="#1A1A1A" stroke="#1A1A1A" stroke-width="0.12">NK.cells</text>
<text transform="translate(214.67,402.40) scale(0.905,1) rotate(-45)" font-size="7.2" fill="#1A1A1A" stroke="#1A1A1A" stroke-width="0.12">Monocytic.lineage</text>
<text transform="translate(238.41,402.40) scale(0.905,1) rotate(-45)" font-size="7.2" fill="#1A1A1A" stroke="#1A1A1A" stroke-width="0.12">Neutrophils</text>
<text transform="translate(262.15,402.40) scale(0.905,1) rotate(-45)" font-size="7.2" fill="#1A1A1A" stroke="#1A1A1A" stroke-width="0.12">Endothelial.cells</text>
<line x1="118.17" y1="553.28" x2="72.23" y2="418.98" stroke="#3A5FA3" stroke-width="3.0"/>
<line x1="118.17" y1="553.28" x2="95.97" y2="445.34" stroke="#3A5FA3" stroke-width="0.75"/>
<line x1="118.17" y1="553.28" x2="119.71" y2="471.70" stroke="#3A5FA3" stroke-width="0.75"/>
<line x1="118.17" y1="553.28" x2="143.45" y2="498.06" stroke="#3A5FA3" stroke-width="1.5"/>
<line x1="118.17" y1="553.28" x2="167.19" y2="524.42" stroke="#3A5FA3" stroke-width="0.75"/>
<line x1="118.17" y1="553.28" x2="190.93" y2="550.78" stroke="#E8474F" stroke-width="0.8"/>
<line x1="118.17" y1="553.28" x2="214.67" y2="577.14" stroke="#3A5FA3" stroke-width="3.6"/>
<line x1="118.17" y1="553.28" x2="238.41" y2="603.50" stroke="#3A5FA3" stroke-width="1.6"/>
<circle cx="72.23" cy="418.98" r="1.7" fill="#FF0000" stroke="#3A2FD8" stroke-width="0.55"/>
<circle cx="95.97" cy="445.34" r="1.7" fill="#FF0000" stroke="#3A2FD8" stroke-width="0.55"/>
<circle cx="119.71" cy="471.70" r="1.7" fill="#FF0000" stroke="#3A2FD8" stroke-width="0.55"/>
<circle cx="143.45" cy="498.06" r="1.7" fill="#FF0000" stroke="#3A2FD8" stroke-width="0.55"/>
<circle cx="167.19" cy="524.42" r="1.7" fill="#FF0000" stroke="#3A2FD8" stroke-width="0.55"/>
<circle cx="190.93" cy="550.78" r="1.7" fill="#FF0000" stroke="#3A2FD8" stroke-width="0.55"/>
<circle cx="214.67" cy="577.14" r="1.7" fill="#FF0000" stroke="#3A2FD8" stroke-width="0.55"/>
<circle cx="238.41" cy="603.50" r="1.7" fill="#FF0000" stroke="#3A2FD8" stroke-width="0.55"/>
<circle cx="118.17" cy="553.28" r="1.7" fill="#FF0000" stroke="#3A2FD8" stroke-width="0.55"/>
<text transform="translate(115.87,555.78) scale(0.905,1)" font-size="7.2" fill="#1A1A1A" stroke="#1A1A1A" stroke-width="0.12" text-anchor="end">VASP</text>
<text transform="translate(351.40,440.20) scale(0.905,1)" font-size="7.0" fill="#1A1A1A" stroke="#1A1A1A" stroke-width="0.12">P.value</text>
<rect x="351.10" y="445.00" width="10.6" height="10.6" fill="#F7F7F7"/>
<rect x="351.10" y="456.30" width="10.6" height="10.6" fill="#F7F7F7"/>
<rect x="351.90" y="448.40" width="8.4" height="3.8" fill="#3F5E9F"/>
<text transform="translate(364.70,452.30) scale(0.905,1)" font-size="5.8" fill="#1A1A1A" stroke="#1A1A1A" stroke-width="0.12">< 0.01</text>
<rect x="351.90" y="459.70" width="8.4" height="3.8" fill="#E8434A"/>
<text transform="translate(364.70,463.60) scale(0.905,1)" font-size="5.8" fill="#1A1A1A" stroke="#1A1A1A" stroke-width="0.12">>= 0.05</text>
<text transform="translate(351.40,487.50) scale(0.905,1)" font-size="7.0" fill="#1A1A1A" stroke="#1A1A1A" stroke-width="0.12">Correlation</text>
<rect x="351.00" y="492.40" width="10.6" height="33.50" fill="#F2F2F2"/>
<line x1="352.10" x2="360.30" y1="497.80" y2="497.80" stroke="#555" stroke-width="0.85"/>
<text transform="translate(364.70,499.80) scale(0.905,1)" font-size="5.8" fill="#1A1A1A" stroke="#1A1A1A" stroke-width="0.12">< 0.54</text>
<line x1="352.10" x2="360.30" y1="509.20" y2="509.20" stroke="#555" stroke-width="1.35"/>
<text transform="translate(364.70,511.20) scale(0.905,1)" font-size="5.8" fill="#1A1A1A" stroke="#1A1A1A" stroke-width="0.12">0.54 ~ 0.64</text>
<line x1="352.10" x2="360.30" y1="520.50" y2="520.50" stroke="#555" stroke-width="2.4"/>
<text transform="translate(364.70,522.50) scale(0.905,1)" font-size="5.8" fill="#1A1A1A" stroke="#1A1A1A" stroke-width="0.12">>= 0.64</text>
<text transform="translate(351.40,546.60) scale(0.905,1)" font-size="7.0" fill="#1A1A1A" stroke="#1A1A1A" stroke-width="0.12">Pearson's R</text>
<defs><linearGradient id="gC" x1="0" y1="0" x2="0" y2="1"><stop offset="0.000" stop-color="#E45258"/><stop offset="0.050" stop-color="#E96365"/><stop offset="0.100" stop-color="#EE7473"/><stop offset="0.150" stop-color="#F28381"/><stop offset="0.200" stop-color="#F6938F"/><stop offset="0.250" stop-color="#F9A29E"/><stop offset="0.300" stop-color="#FBB0AC"/><stop offset="0.350" stop-color="#FDBFBB"/><stop offset="0.400" stop-color="#FFCECA"/><stop offset="0.450" stop-color="#FFDCDA"/><stop offset="0.500" stop-color="#FFEBE9"/><stop offset="0.550" stop-color="#FFFAF9"/><stop offset="0.600" stop-color="#F4F6F9"/><stop offset="0.650" stop-color="#E4E7F0"/><stop offset="0.700" stop-color="#D3D8E6"/><stop offset="0.750" stop-color="#C3CADD"/><stop offset="0.800" stop-color="#B3BCD3"/><stop offset="0.850" stop-color="#A2AECA"/><stop offset="0.900" stop-color="#92A0C1"/><stop offset="0.950" stop-color="#8292B8"/><stop offset="1.000" stop-color="#7185AF"/></linearGradient></defs>
<rect x="351.10" y="551.40" width="10.2" height="37.70" fill="url(#gC)"/>
<text transform="translate(364.70,553.40) scale(0.905,1)" font-size="5.8" fill="#1A1A1A" stroke="#1A1A1A" stroke-width="0.12">1.0</text>
<text transform="translate(364.70,564.11) scale(0.905,1)" font-size="5.8" fill="#1A1A1A" stroke="#1A1A1A" stroke-width="0.12">0.5</text>
<text transform="translate(364.70,574.82) scale(0.905,1)" font-size="5.8" fill="#1A1A1A" stroke="#1A1A1A" stroke-width="0.12">0.0</text>
<text transform="translate(364.70,585.53) scale(0.905,1)" font-size="5.8" fill="#1A1A1A" stroke="#1A1A1A" stroke-width="0.12">−0.5</text>
<rect x="478.40" y="407.00" width="24.09" height="26.46" fill="#fff" stroke="#D4D4D4" stroke-width="0.5"/>
<rect x="502.49" y="407.00" width="24.09" height="26.46" fill="#fff" stroke="#D4D4D4" stroke-width="0.5"/>
<rect x="526.58" y="407.00" width="24.09" height="26.46" fill="#fff" stroke="#D4D4D4" stroke-width="0.5"/>
<rect x="550.67" y="407.00" width="24.09" height="26.46" fill="#fff" stroke="#D4D4D4" stroke-width="0.5"/>
<rect x="574.76" y="407.00" width="24.09" height="26.46" fill="#fff" stroke="#D4D4D4" stroke-width="0.5"/>
<rect x="598.85" y="407.00" width="24.09" height="26.46" fill="#fff" stroke="#D4D4D4" stroke-width="0.5"/>
<rect x="622.94" y="407.00" width="24.09" height="26.46" fill="#fff" stroke="#D4D4D4" stroke-width="0.5"/>
<rect x="647.03" y="407.00" width="24.09" height="26.46" fill="#fff" stroke="#D4D4D4" stroke-width="0.5"/>
<rect x="502.49" y="433.46" width="24.09" height="26.46" fill="#fff" stroke="#D4D4D4" stroke-width="0.5"/>
<rect x="526.58" y="433.46" width="24.09" height="26.46" fill="#fff" stroke="#D4D4D4" stroke-width="0.5"/>
<rect x="550.67" y="433.46" width="24.09" height="26.46" fill="#fff" stroke="#D4D4D4" stroke-width="0.5"/>
<rect x="574.76" y="433.46" width="24.09" height="26.46" fill="#fff" stroke="#D4D4D4" stroke-width="0.5"/>
<rect x="598.85" y="433.46" width="24.09" height="26.46" fill="#fff" stroke="#D4D4D4" stroke-width="0.5"/>
<rect x="622.94" y="433.46" width="24.09" height="26.46" fill="#fff" stroke="#D4D4D4" stroke-width="0.5"/>
<rect x="647.03" y="433.46" width="24.09" height="26.46" fill="#fff" stroke="#D4D4D4" stroke-width="0.5"/>
<rect x="526.58" y="459.92" width="24.09" height="26.46" fill="#fff" stroke="#D4D4D4" stroke-width="0.5"/>
<rect x="550.67" y="459.92" width="24.09" height="26.46" fill="#fff" stroke="#D4D4D4" stroke-width="0.5"/>
<rect x="574.76" y="459.92" width="24.09" height="26.46" fill="#fff" stroke="#D4D4D4" stroke-width="0.5"/>
<rect x="598.85" y="459.92" width="24.09" height="26.46" fill="#fff" stroke="#D4D4D4" stroke-width="0.5"/>
<rect x="622.94" y="459.92" width="24.09" height="26.46" fill="#fff" stroke="#D4D4D4" stroke-width="0.5"/>
<rect x="647.03" y="459.92" width="24.09" height="26.46" fill="#fff" stroke="#D4D4D4" stroke-width="0.5"/>
<rect x="550.67" y="486.38" width="24.09" height="26.46" fill="#fff" stroke="#D4D4D4" stroke-width="0.5"/>
<rect x="574.76" y="486.38" width="24.09" height="26.46" fill="#fff" stroke="#D4D4D4" stroke-width="0.5"/>
<rect x="598.85" y="486.38" width="24.09" height="26.46" fill="#fff" stroke="#D4D4D4" stroke-width="0.5"/>
<rect x="622.94" y="486.38" width="24.09" height="26.46" fill="#fff" stroke="#D4D4D4" stroke-width="0.5"/>
<rect x="647.03" y="486.38" width="24.09" height="26.46" fill="#fff" stroke="#D4D4D4" stroke-width="0.5"/>
<rect x="574.76" y="512.84" width="24.09" height="26.46" fill="#fff" stroke="#D4D4D4" stroke-width="0.5"/>
<rect x="598.85" y="512.84" width="24.09" height="26.46" fill="#fff" stroke="#D4D4D4" stroke-width="0.5"/>
<rect x="622.94" y="512.84" width="24.09" height="26.46" fill="#fff" stroke="#D4D4D4" stroke-width="0.5"/>
<rect x="647.03" y="512.84" width="24.09" height="26.46" fill="#fff" stroke="#D4D4D4" stroke-width="0.5"/>
<rect x="598.85" y="539.30" width="24.09" height="26.46" fill="#fff" stroke="#D4D4D4" stroke-width="0.5"/>
<rect x="622.94" y="539.30" width="24.09" height="26.46" fill="#fff" stroke="#D4D4D4" stroke-width="0.5"/>
<rect x="647.03" y="539.30" width="24.09" height="26.46" fill="#fff" stroke="#D4D4D4" stroke-width="0.5"/>
<rect x="622.94" y="565.76" width="24.09" height="26.46" fill="#fff" stroke="#D4D4D4" stroke-width="0.5"/>
<rect x="647.03" y="565.76" width="24.09" height="26.46" fill="#fff" stroke="#D4D4D4" stroke-width="0.5"/>
<rect x="647.03" y="592.22" width="24.09" height="26.46" fill="#fff" stroke="#D4D4D4" stroke-width="0.5"/>
<rect x="478.65" y="407.25" width="23.59" height="25.96" fill="#E45258" stroke="#000" stroke-opacity="0.2" stroke-width="0.5"/>
<rect x="504.90" y="409.65" width="19.27" height="21.17" fill="#F69491" stroke="#000" stroke-opacity="0.35" stroke-width="0.5"/>
<rect x="530.01" y="410.77" width="17.22" height="18.92" fill="#FAAAA6" stroke="#000" stroke-opacity="0.35" stroke-width="0.5"/>
<rect x="552.72" y="409.25" width="19.99" height="21.96" fill="#F48C89" stroke="#000" stroke-opacity="0.35" stroke-width="0.5"/>
<rect x="578.92" y="411.56" width="15.78" height="17.33" fill="#FCB8B4" stroke="#000" stroke-opacity="0.35" stroke-width="0.5"/>
<rect x="603.43" y="412.03" width="14.94" height="16.41" fill="#B7BFD6" stroke="#000" stroke-opacity="0.35" stroke-width="0.5"/>
<rect x="624.26" y="408.46" width="21.44" height="23.55" fill="#6B80AB" stroke="#000" stroke-opacity="0.35" stroke-width="0.5"/>
<rect x="649.56" y="409.78" width="19.03" height="20.90" fill="#8B9ABD" stroke="#000" stroke-opacity="0.35" stroke-width="0.5"/>
<rect x="502.74" y="433.71" width="23.59" height="25.96" fill="#E45258" stroke="#000" stroke-opacity="0.2" stroke-width="0.5"/>
<rect x="529.35" y="436.50" width="18.55" height="20.37" fill="#F89C98" stroke="#000" stroke-opacity="0.35" stroke-width="0.5"/>
<rect x="554.89" y="438.09" width="15.66" height="17.20" fill="#FDB9B5" stroke="#000" stroke-opacity="0.35" stroke-width="0.5"/>
<rect x="579.88" y="439.08" width="13.85" height="15.21" fill="#FEC8C5" stroke="#000" stroke-opacity="0.35" stroke-width="0.5"/>
<rect x="604.21" y="439.35" width="13.37" height="14.69" fill="#C5CCDE" stroke="#000" stroke-opacity="0.35" stroke-width="0.5"/>
<rect x="625.77" y="436.57" width="18.43" height="20.24" fill="#92A0C1" stroke="#000" stroke-opacity="0.35" stroke-width="0.5"/>
<rect x="651.79" y="438.69" width="14.57" height="16.01" fill="#BAC2D8" stroke="#000" stroke-opacity="0.35" stroke-width="0.5"/>
<rect x="526.83" y="460.17" width="23.59" height="25.96" fill="#E45258" stroke="#000" stroke-opacity="0.2" stroke-width="0.5"/>
<rect x="555.55" y="465.28" width="14.33" height="15.74" fill="#FEC4C0" stroke="#000" stroke-opacity="0.35" stroke-width="0.5"/>
<rect x="577.41" y="462.83" width="18.79" height="20.64" fill="#F79996" stroke="#000" stroke-opacity="0.35" stroke-width="0.5"/>
<rect x="605.41" y="467.13" width="10.96" height="12.04" fill="#D8DCE9" stroke="#000" stroke-opacity="0.35" stroke-width="0.5"/>
<rect x="625.71" y="462.96" width="18.55" height="20.37" fill="#909EC0" stroke="#000" stroke-opacity="0.35" stroke-width="0.5"/>
<rect x="650.52" y="463.76" width="17.10" height="18.79" fill="#A1ACC9" stroke="#000" stroke-opacity="0.35" stroke-width="0.5"/>
<rect x="550.92" y="486.63" width="23.59" height="25.96" fill="#E45258" stroke="#000" stroke-opacity="0.2" stroke-width="0.5"/>
<rect x="581.20" y="493.46" width="11.20" height="12.30" fill="#FFDBD8" stroke="#000" stroke-opacity="0.35" stroke-width="0.5"/>
<rect x="604.87" y="493.00" width="12.04" height="13.23" fill="#D0D5E4" stroke="#000" stroke-opacity="0.35" stroke-width="0.5"/>
<rect x="625.23" y="488.89" width="19.51" height="21.43" fill="#8595B9" stroke="#000" stroke-opacity="0.35" stroke-width="0.5"/>
<rect x="650.34" y="490.02" width="17.47" height="19.18" fill="#9DA9C7" stroke="#000" stroke-opacity="0.35" stroke-width="0.5"/>
<rect x="575.01" y="513.09" width="23.59" height="25.96" fill="#E45258" stroke="#000" stroke-opacity="0.2" stroke-width="0.5"/>
<rect x="605.17" y="519.79" width="11.44" height="12.57" fill="#D4D9E7" stroke="#000" stroke-opacity="0.35" stroke-width="0.5"/>
<rect x="626.55" y="516.81" width="16.86" height="18.52" fill="#A3AECB" stroke="#000" stroke-opacity="0.35" stroke-width="0.5"/>
<rect x="650.52" y="516.68" width="17.10" height="18.79" fill="#A1ACC9" stroke="#000" stroke-opacity="0.35" stroke-width="0.5"/>
<rect x="599.10" y="539.55" width="23.59" height="25.96" fill="#E45258" stroke="#000" stroke-opacity="0.2" stroke-width="0.5"/>
<rect x="630.71" y="547.83" width="8.55" height="9.39" fill="#FFEAE8" stroke="#000" stroke-opacity="0.35" stroke-width="0.5"/>
<rect x="654.02" y="546.97" width="10.12" height="11.11" fill="#FFE2DF" stroke="#000" stroke-opacity="0.35" stroke-width="0.5"/>
<rect x="623.19" y="566.01" width="23.59" height="25.96" fill="#E45258" stroke="#000" stroke-opacity="0.2" stroke-width="0.5"/>
<rect x="649.20" y="568.14" width="19.75" height="21.70" fill="#F58E8B" stroke="#000" stroke-opacity="0.35" stroke-width="0.5"/>
<rect x="647.28" y="592.47" width="23.59" height="25.96" fill="#E45258" stroke="#000" stroke-opacity="0.2" stroke-width="0.5"/>
<text transform="translate(673.92,423.13) scale(0.905,1)" font-size="7.2" fill="#1A1A1A" stroke="#1A1A1A" stroke-width="0.12">T.cells</text>
<text transform="translate(673.92,449.59) scale(0.905,1)" font-size="7.2" fill="#1A1A1A" stroke="#1A1A1A" stroke-width="0.12">CD8.T.cells</text>
<text transform="translate(673.92,476.05) scale(0.905,1)" font-size="7.2" fill="#1A1A1A" stroke="#1A1A1A" stroke-width="0.12">Cytotoxic.lymphocytes</text>
<text transform="translate(673.92,502.51) scale(0.905,1)" font-size="7.2" fill="#1A1A1A" stroke="#1A1A1A" stroke-width="0.12">B.lineage</text>
<text transform="translate(673.92,528.97) scale(0.905,1)" font-size="7.2" fill="#1A1A1A" stroke="#1A1A1A" stroke-width="0.12">NK.cells</text>
<text transform="translate(673.92,555.43) scale(0.905,1)" font-size="7.2" fill="#1A1A1A" stroke="#1A1A1A" stroke-width="0.12">Monocytic.lineage</text>
<text transform="translate(673.92,581.89) scale(0.905,1)" font-size="7.2" fill="#1A1A1A" stroke="#1A1A1A" stroke-width="0.12">Neutrophils</text>
<text transform="translate(673.92,608.35) scale(0.905,1)" font-size="7.2" fill="#1A1A1A" stroke="#1A1A1A" stroke-width="0.12">Endothelial.cells</text>
<text transform="translate(490.44,403.60) scale(0.905,1) rotate(-45)" font-size="7.2" fill="#1A1A1A" stroke="#1A1A1A" stroke-width="0.12">T.cells</text>
<text transform="translate(514.53,403.60) scale(0.905,1) rotate(-45)" font-size="7.2" fill="#1A1A1A" stroke="#1A1A1A" stroke-width="0.12">CD8.T.cells</text>
<text transform="translate(538.62,403.60) scale(0.905,1) rotate(-45)" font-size="7.2" fill="#1A1A1A" stroke="#1A1A1A" stroke-width="0.12">Cytotoxic.lymphocytes</text>
<text transform="translate(562.71,403.60) scale(0.905,1) rotate(-45)" font-size="7.2" fill="#1A1A1A" stroke="#1A1A1A" stroke-width="0.12">B.lineage</text>
<text transform="translate(586.80,403.60) scale(0.905,1) rotate(-45)" font-size="7.2" fill="#1A1A1A" stroke="#1A1A1A" stroke-width="0.12">NK.cells</text>
<text transform="translate(610.89,403.60) scale(0.905,1) rotate(-45)" font-size="7.2" fill="#1A1A1A" stroke="#1A1A1A" stroke-width="0.12">Monocytic.lineage</text>
<text transform="translate(634.99,403.60) scale(0.905,1) rotate(-45)" font-size="7.2" fill="#1A1A1A" stroke="#1A1A1A" stroke-width="0.12">Neutrophils</text>
<text transform="translate(659.08,403.60) scale(0.905,1) rotate(-45)" font-size="7.2" fill="#1A1A1A" stroke="#1A1A1A" stroke-width="0.12">Endothelial.cells</text>
<line x1="512.97" y1="555.04" x2="466.35" y2="420.23" stroke="#3A5FA3" stroke-width="2.6"/>
<line x1="512.97" y1="555.04" x2="490.44" y2="446.69" stroke="#3A5FA3" stroke-width="0.75"/>
<line x1="512.97" y1="555.04" x2="514.53" y2="473.15" stroke="#3A5FA3" stroke-width="0.75"/>
<line x1="512.97" y1="555.04" x2="538.62" y2="499.61" stroke="#3A5FA3" stroke-width="1.5"/>
<line x1="512.97" y1="555.04" x2="562.71" y2="526.07" stroke="#3A5FA3" stroke-width="0.75"/>
<line x1="512.97" y1="555.04" x2="586.80" y2="552.53" stroke="#3A5FA3" stroke-width="0.75"/>
<line x1="512.97" y1="555.04" x2="610.89" y2="578.99" stroke="#3A5FA3" stroke-width="3.6"/>
<line x1="512.97" y1="555.04" x2="634.99" y2="605.45" stroke="#3A5FA3" stroke-width="1.6"/>
<circle cx="466.35" cy="420.23" r="1.7" fill="#FF0000" stroke="#3A2FD8" stroke-width="0.55"/>
<circle cx="490.44" cy="446.69" r="1.7" fill="#FF0000" stroke="#3A2FD8" stroke-width="0.55"/>
<circle cx="514.53" cy="473.15" r="1.7" fill="#FF0000" stroke="#3A2FD8" stroke-width="0.55"/>
<circle cx="538.62" cy="499.61" r="1.7" fill="#FF0000" stroke="#3A2FD8" stroke-width="0.55"/>
<circle cx="562.71" cy="526.07" r="1.7" fill="#FF0000" stroke="#3A2FD8" stroke-width="0.55"/>
<circle cx="586.80" cy="552.53" r="1.7" fill="#FF0000" stroke="#3A2FD8" stroke-width="0.55"/>
<circle cx="610.89" cy="578.99" r="1.7" fill="#FF0000" stroke="#3A2FD8" stroke-width="0.55"/>
<circle cx="634.99" cy="605.45" r="1.7" fill="#FF0000" stroke="#3A2FD8" stroke-width="0.55"/>
<circle cx="512.97" cy="555.04" r="1.7" fill="#FF0000" stroke="#3A2FD8" stroke-width="0.55"/>
<text transform="translate(510.67,557.54) scale(0.905,1)" font-size="7.2" fill="#1A1A1A" stroke="#1A1A1A" stroke-width="0.12" text-anchor="end">CD163</text>
<text transform="translate(748.30,447.80) scale(0.905,1)" font-size="7.0" fill="#1A1A1A" stroke="#1A1A1A" stroke-width="0.12">P.value</text>
<rect x="748.00" y="452.10" width="10.6" height="10.6" fill="#F7F7F7"/>
<rect x="748.80" y="455.50" width="8.4" height="3.8" fill="#3F5E9F"/>
<text transform="translate(761.60,459.40) scale(0.905,1)" font-size="5.8" fill="#1A1A1A" stroke="#1A1A1A" stroke-width="0.12">< 0.01</text>
<text transform="translate(748.30,483.60) scale(0.905,1)" font-size="7.0" fill="#1A1A1A" stroke="#1A1A1A" stroke-width="0.12">Correlation</text>
<rect x="747.90" y="488.00" width="10.6" height="33.50" fill="#F2F2F2"/>
<line x1="749.00" x2="757.20" y1="493.40" y2="493.40" stroke="#555" stroke-width="0.85"/>
<text transform="translate(761.60,495.40) scale(0.905,1)" font-size="5.8" fill="#1A1A1A" stroke="#1A1A1A" stroke-width="0.12">< 0.5</text>
<line x1="749.00" x2="757.20" y1="504.80" y2="504.80" stroke="#555" stroke-width="1.35"/>
<text transform="translate(761.60,506.80) scale(0.905,1)" font-size="5.8" fill="#1A1A1A" stroke="#1A1A1A" stroke-width="0.12">0.5 ~ 0.54</text>
<line x1="749.00" x2="757.20" y1="516.10" y2="516.10" stroke="#555" stroke-width="2.4"/>
<text transform="translate(761.60,518.10) scale(0.905,1)" font-size="5.8" fill="#1A1A1A" stroke="#1A1A1A" stroke-width="0.12">>= 0.54</text>
<text transform="translate(748.30,541.80) scale(0.905,1)" font-size="7.0" fill="#1A1A1A" stroke="#1A1A1A" stroke-width="0.12">Pearson's R</text>
<defs><linearGradient id="gD" x1="0" y1="0" x2="0" y2="1"><stop offset="0.000" stop-color="#E45258"/><stop offset="0.050" stop-color="#E96365"/><stop offset="0.100" stop-color="#EE7473"/><stop offset="0.150" stop-color="#F28381"/><stop offset="0.200" stop-color="#F6938F"/><stop offset="0.250" stop-color="#F9A29E"/><stop offset="0.300" stop-color="#FBB0AC"/><stop offset="0.350" stop-color="#FDBFBB"/><stop offset="0.400" stop-color="#FFCECA"/><stop offset="0.450" stop-color="#FFDCDA"/><stop offset="0.500" stop-color="#FFEBE9"/><stop offset="0.550" stop-color="#FFFAF9"/><stop offset="0.600" stop-color="#F4F6F9"/><stop offset="0.650" stop-color="#E4E7F0"/><stop offset="0.700" stop-color="#D3D8E6"/><stop offset="0.750" stop-color="#C3CADD"/><stop offset="0.800" stop-color="#B3BCD3"/><stop offset="0.850" stop-color="#A2AECA"/><stop offset="0.900" stop-color="#92A0C1"/><stop offset="0.950" stop-color="#8292B8"/><stop offset="1.000" stop-color="#7185AF"/></linearGradient></defs>
<rect x="748.00" y="546.60" width="10.2" height="37.60" fill="url(#gD)"/>
<text transform="translate(761.60,548.60) scale(0.905,1)" font-size="5.8" fill="#1A1A1A" stroke="#1A1A1A" stroke-width="0.12">1.0</text>
<text transform="translate(761.60,559.28) scale(0.905,1)" font-size="5.8" fill="#1A1A1A" stroke="#1A1A1A" stroke-width="0.12">0.5</text>
<text transform="translate(761.60,569.96) scale(0.905,1)" font-size="5.8" fill="#1A1A1A" stroke="#1A1A1A" stroke-width="0.12">0.0</text>
<text transform="translate(761.60,580.65) scale(0.905,1)" font-size="5.8" fill="#1A1A1A" stroke="#1A1A1A" stroke-width="0.12">−0.5</text>
</svg>
</body></html>
